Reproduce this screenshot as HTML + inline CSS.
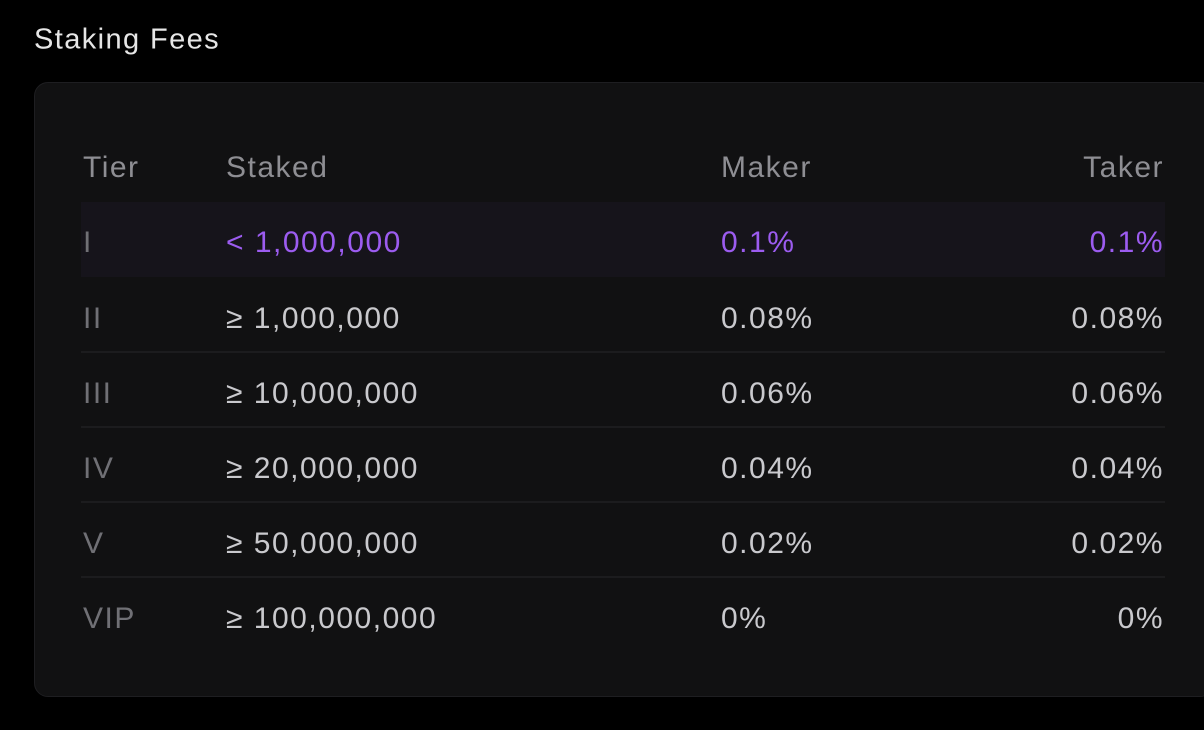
<!DOCTYPE html>
<html><head><style>
body{margin:0;width:1204px;height:730px;background:#000;font-family:"Liberation Sans",sans-serif;position:relative;overflow:hidden}
.t{position:absolute;white-space:nowrap;line-height:1;transform:translateY(-50%)}
#title{left:34px;top:40px;font-size:29px;color:#e6e6e6;letter-spacing:1.4px}
#card{position:absolute;left:34px;top:82px;width:1180px;height:615px;background:#111112;border:1.5px solid #1e1e21;border-radius:14px;box-sizing:border-box}
.hl{position:absolute;left:81px;top:202px;width:1084px;height:75px;background:#16141b}
.sep{position:absolute;left:81px;width:1084px;height:2px;background:#1c1c1e}
.c{font-size:30px;letter-spacing:1.5px}
.h{color:#8e8e93}
.tier{color:#707075}
.v{color:#c9c9cd}
.p{color:#9c5cf0}
.r{right:40px;text-align:right}
</style></head><body>
<div class="t" id="title">Staking Fees</div>
<div id="card"></div>
<div class="hl"></div>
<div class="sep" style="top:351px"></div>
<div class="sep" style="top:426px"></div>
<div class="sep" style="top:501px"></div>
<div class="sep" style="top:576px"></div>

<div class="t c h" style="left:83px;top:168px">Tier</div>
<div class="t c h" style="left:226px;top:168px">Staked</div>
<div class="t c h" style="left:721px;top:168px">Maker</div>
<div class="t c h r" style="top:168px">Taker</div>

<div class="t c tier" style="left:83px;top:243px">I</div>
<div class="t c p" style="left:226px;top:243px">&lt; 1,000,000</div>
<div class="t c p" style="left:721px;top:243px">0.1%</div>
<div class="t c p r" style="top:243px">0.1%</div>

<div class="t c tier" style="left:83px;top:319px">II</div>
<div class="t c v" style="left:226px;top:319px">≥ 1,000,000</div>
<div class="t c v" style="left:721px;top:319px">0.08%</div>
<div class="t c v r" style="top:319px">0.08%</div>

<div class="t c tier" style="left:83px;top:394px">III</div>
<div class="t c v" style="left:226px;top:394px">≥ 10,000,000</div>
<div class="t c v" style="left:721px;top:394px">0.06%</div>
<div class="t c v r" style="top:394px">0.06%</div>

<div class="t c tier" style="left:83px;top:469px">IV</div>
<div class="t c v" style="left:226px;top:469px">≥ 20,000,000</div>
<div class="t c v" style="left:721px;top:469px">0.04%</div>
<div class="t c v r" style="top:469px">0.04%</div>

<div class="t c tier" style="left:83px;top:544px">V</div>
<div class="t c v" style="left:226px;top:544px">≥ 50,000,000</div>
<div class="t c v" style="left:721px;top:544px">0.02%</div>
<div class="t c v r" style="top:544px">0.02%</div>

<div class="t c tier" style="left:83px;top:619px">VIP</div>
<div class="t c v" style="left:226px;top:619px">≥ 100,000,000</div>
<div class="t c v" style="left:721px;top:619px">0%</div>
<div class="t c v r" style="top:619px">0%</div>
</body></html>
